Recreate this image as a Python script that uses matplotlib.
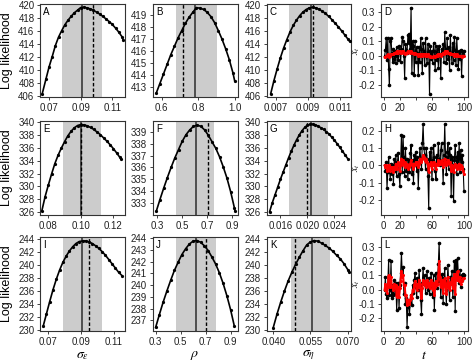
import matplotlib
matplotlib.use('Agg')
import matplotlib.pyplot as plt
import numpy as np

plt.rcParams['font.family'] = ['Liberation Sans', 'DejaVu Sans']
plt.rcParams['mathtext.fontset'] = 'stix'

# ---- profile log likelihoods (row 1) ----
a_x = [0.0657, 0.068, 0.070, 0.072, 0.074, 0.076, 0.078, 0.080, 0.082, 0.084, 0.086, 0.088, 0.090, 0.092,
       0.094, 0.096, 0.098, 0.100, 0.102, 0.104, 0.106, 0.108, 0.110, 0.112, 0.114, 0.116, 0.117]
a_y = [406.3, 408.5, 410.4, 412.0, 413.7, 415.0, 416.0, 416.9, 417.6, 418.2, 418.75, 419.15, 419.55, 419.6,
       419.5, 419.35, 419.15, 418.85, 418.55, 418.2, 417.8, 417.4, 416.95, 416.4, 415.8, 415.1, 414.5]
b_x = [0.57, 0.59, 0.61, 0.63, 0.65, 0.67, 0.69, 0.71, 0.73, 0.75, 0.77, 0.79, 0.81, 0.83, 0.85, 0.87,
       0.89, 0.91, 0.93, 0.95, 0.97, 0.99, 1.00]
b_y = [412.5, 413.3, 414.1, 414.9, 415.7, 416.4, 417.1, 417.7, 418.3, 418.8, 419.2, 419.6, 419.55, 419.45,
       419.2, 418.85, 418.35, 417.7, 417.0, 416.2, 415.3, 414.2, 413.5]
c_x = [0.0067, 0.0069, 0.0071, 0.0073, 0.0075, 0.0077, 0.0079, 0.0081, 0.0083, 0.0085, 0.0087, 0.0089,
       0.0091, 0.0093, 0.0095, 0.0097, 0.0099, 0.0101, 0.0103, 0.0105, 0.0107, 0.0109, 0.0111, 0.0113,
       0.0115, 0.0116]
c_y = [406.3, 408.3, 410.1, 411.8, 413.3, 414.6, 415.8, 416.8, 417.6, 418.3, 418.85, 419.25, 419.5, 419.6,
       419.5, 419.3, 419.0, 418.65, 418.2, 417.7, 417.15, 416.6, 416.0, 415.35, 414.7, 414.35]

# ---- row 2 ----
e_x = [0.076, 0.078, 0.080, 0.082, 0.084, 0.086, 0.088, 0.090, 0.092, 0.094, 0.096, 0.098, 0.100, 0.102,
       0.104, 0.106, 0.108, 0.110, 0.112, 0.114, 0.116, 0.118, 0.120, 0.122, 0.124, 0.125]
e_y = [326.2, 328.4, 330.2, 331.9, 333.5, 334.8, 335.9, 336.9, 337.8, 338.5, 339.05, 339.4, 339.55, 339.5,
       339.35, 339.1, 338.8, 338.4, 338.0, 337.5, 337.0, 336.45, 335.85, 335.2, 334.5, 334.2]
f_x = [0.29, 0.32, 0.35, 0.38, 0.41, 0.44, 0.47, 0.50, 0.53, 0.56, 0.59, 0.62, 0.65, 0.68, 0.71, 0.74,
       0.77, 0.80, 0.83, 0.86, 0.89, 0.92, 0.925]
f_y = [332.3, 333.3, 334.25, 335.15, 336.0, 336.8, 337.5, 338.2, 338.75, 339.15, 339.45, 339.55, 339.45,
       339.15, 338.7, 338.15, 337.6, 336.9, 336.05, 335.1, 333.95, 332.6, 332.35]
g_x = [0.0144, 0.0148, 0.0152, 0.0156, 0.0160, 0.0164, 0.0168, 0.0172, 0.0176, 0.0180, 0.0184, 0.0188,
       0.0192, 0.0196, 0.0200, 0.0204, 0.0208, 0.0212, 0.0216, 0.0220, 0.0224, 0.0228, 0.0232, 0.0236,
       0.0240, 0.0244, 0.0248, 0.0252, 0.0256, 0.0260]
g_y = [326.1, 327.5, 328.7, 329.9, 331.1, 332.2, 333.3, 334.4, 335.4, 336.35, 337.2, 337.95, 338.6, 339.1,
       339.45, 339.6, 339.6, 339.5, 339.3, 339.05, 338.8, 338.45, 338.1, 337.6, 337.15, 336.6, 336.05,
       335.45, 334.85, 334.25]

# ---- row 3 ----
i_x = [0.067, 0.069, 0.071, 0.073, 0.075, 0.077, 0.079, 0.081, 0.083, 0.085, 0.087, 0.089, 0.091, 0.093,
       0.095, 0.097, 0.099, 0.101, 0.103, 0.105, 0.107, 0.109, 0.111, 0.113, 0.115]
i_y = [230.6, 232.5, 234.4, 236.2, 237.8, 239.2, 240.4, 241.35, 242.15, 242.8, 243.3, 243.6, 243.7, 243.7,
       243.55, 243.3, 242.95, 242.55, 242.05, 241.5, 240.85, 240.2, 239.55, 238.9, 238.4]
j_x = [0.30, 0.33, 0.36, 0.39, 0.42, 0.45, 0.48, 0.51, 0.54, 0.57, 0.60, 0.63, 0.66, 0.69, 0.72, 0.75,
       0.78, 0.81, 0.84, 0.87, 0.90, 0.93]
j_y = [236.4, 237.5, 238.55, 239.5, 240.4, 241.25, 241.95, 242.6, 243.1, 243.5, 243.75, 243.8, 243.65,
       243.35, 242.95, 242.4, 241.8, 241.05, 240.15, 239.1, 237.9, 236.5]
k_x = [0.0400, 0.0415, 0.0430, 0.0445, 0.0460, 0.0475, 0.0490, 0.0505, 0.0520, 0.0535, 0.0550, 0.0565,
       0.0580, 0.0595, 0.0610, 0.0625, 0.0640, 0.0655, 0.0670, 0.0685, 0.0700, 0.0704]
k_y = [230.4, 232.45, 234.3, 236.0, 237.55, 238.9, 240.1, 241.2, 242.2, 243.1, 243.55, 243.75, 243.65,
       243.35, 243.0, 242.6, 242.1, 241.5, 240.95, 240.2, 239.3, 239.0]

# ---- time series x_t (black: simulated, red: estimated) ----
d_black = [0.00, 0.04, 0.12, -0.03, 0.12, -0.09, -0.20, 0.10, 0.12, 0.02,
           -0.04, 0.05, -0.02, 0.03, -0.05, 0.06, 0.00, -0.03, 0.07, 0.02,
           -0.04, 0.05, 0.13, 0.10, 0.00, -0.15, 0.08, 0.04, 0.02, 0.14,
           0.09, 0.15, 0.05, 0.33, -0.12, 0.10, 0.07, -0.13, 0.10, -0.04,
           0.06, 0.02, -0.13, 0.06, -0.04, 0.12, 0.05, -0.12, 0.09, 0.03,
           -0.06, 0.12, 0.00, -0.05, 0.08, 0.03, -0.26, 0.07, -0.02, 0.03,
           -0.05, 0.09, 0.03, -0.10, 0.07, -0.03, 0.05, -0.08, 0.07, 0.00,
           -0.15, 0.05, 0.02, 0.08, -0.04, 0.16, 0.05, -0.05, 0.12, -0.02,
           0.06, -0.10, 0.14, 0.02, -0.05, 0.09, -0.03, 0.13, 0.04, -0.06,
           0.12, 0.01, -0.09, 0.03, -0.02, 0.04, -0.14, 0.03, 0.01, 0.03]
d_red = [-0.01, -0.01, 0.00, 0.00, 0.01, 0.00, -0.01, 0.00, 0.01, 0.01,
         0.01, 0.01, 0.02, 0.02, 0.02, 0.03, 0.02, 0.02, 0.03, 0.03,
         0.02, 0.02, 0.03, 0.03, 0.02, 0.01, 0.02, 0.02, 0.02, 0.03,
         0.03, 0.03, 0.02, 0.03, 0.02, 0.02, 0.02, 0.01, 0.02, 0.01,
         0.01, 0.01, 0.00, 0.01, 0.00, 0.01, 0.01, 0.00, 0.01, 0.01,
         0.00, 0.01, 0.00, 0.00, 0.01, 0.00, -0.01, 0.00, -0.01, -0.01,
         -0.01, 0.00, 0.00, -0.01, 0.00, 0.00, 0.01, 0.00, 0.01, 0.01,
         0.00, 0.01, 0.01, 0.02, 0.01, 0.03, 0.03, 0.02, 0.03, 0.02,
         0.02, 0.01, 0.02, 0.01, 0.01, 0.01, 0.00, 0.01, 0.01, 0.00,
         0.01, 0.00, 0.00, 0.00, 0.00, 0.00, -0.01, 0.00, 0.00, 0.00]
h_black = [0.00, -0.03, 0.02, -0.13, -0.04, 0.05, -0.02, -0.08, 0.01, -0.05,
           0.00, -0.11, 0.04, -0.03, 0.06, -0.06, 0.02, 0.07, -0.05, -0.12,
           0.02, 0.18, -0.04, 0.17, 0.05, -0.06, 0.10, -0.03, 0.04, -0.08,
           0.03, -0.04, 0.07, 0.12, -0.05, 0.03, -0.10, 0.06, 0.00, 0.08,
           -0.03, 0.05, -0.13, 0.02, 0.10, 0.04, -0.02, 0.13, 0.24, 0.10,
           0.06, -0.02, 0.10, 0.04, -0.06, -0.25, 0.08, 0.02, 0.10, -0.08,
           0.03, 0.12, 0.05, -0.03, -0.08, 0.06, 0.01, 0.13, 0.04, 0.00,
           0.09, 0.13, 0.02, -0.10, 0.06, 0.24, 0.05, -0.05, 0.08, 0.13,
           -0.02, 0.10, 0.06, -0.18, 0.05, 0.00, -0.21, 0.03, 0.12, 0.05,
           -0.05, 0.08, 0.01, 0.13, -0.04, 0.09, 0.02, 0.06, -0.02, -0.15]
h_red = [0.00, -0.01, 0.00, -0.03, -0.02, 0.00, 0.00, -0.03, -0.01, -0.02,
         -0.01, -0.04, -0.01, -0.02, 0.01, -0.02, 0.00, 0.02, 0.00, -0.03,
         0.00, 0.04, 0.01, 0.03, 0.02, -0.01, 0.02, 0.00, 0.01, -0.02,
         0.00, -0.01, 0.01, 0.03, 0.00, 0.01, -0.02, 0.01, 0.00, 0.02,
         0.01, 0.02, -0.01, 0.01, 0.04, 0.03, 0.02, 0.04, 0.06, 0.05,
         0.04, 0.02, 0.04, 0.02, 0.00, -0.04, 0.01, 0.00, 0.02, -0.02,
         0.00, 0.02, 0.01, 0.00, -0.02, 0.01, 0.00, 0.03, 0.02, 0.01,
         0.02, 0.03, 0.01, -0.01, 0.01, 0.04, 0.02, 0.00, 0.02, 0.03,
         0.01, 0.02, 0.01, -0.03, 0.00, -0.01, -0.04, -0.01, 0.01, 0.00,
         -0.02, 0.00, -0.01, 0.01, -0.02, 0.00, -0.01, -0.01, -0.03, -0.05]
l_black = [0.00, 0.09, -0.03, -0.06, 0.04, 0.21, -0.04, 0.00, 0.20, -0.06,
           0.03, -0.04, 0.07, -0.03, 0.05, -0.14, -0.03, 0.05, -0.13, 0.03,
           0.12, 0.26, 0.10, 0.16, -0.03, 0.05, -0.10, -0.06, -0.26, -0.12,
           -0.08, -0.17, -0.09, -0.04, -0.11, 0.03, -0.02, 0.07, 0.12, 0.02,
           -0.05, 0.08, 0.00, 0.14, 0.03, -0.07, -0.17, 0.05, 0.15, 0.04,
           0.10, -0.02, 0.06, 0.13, 0.00, 0.08, -0.03, 0.05, 0.12, 0.02,
           -0.05, 0.10, -0.14, 0.04, 0.12, 0.01, 0.06, 0.18, 0.33, 0.10,
           -0.05, 0.04, 0.11, -0.09, 0.08, 0.15, 0.00, -0.10, 0.06, 0.17,
           0.03, -0.07, 0.09, 0.05, 0.13, -0.05, 0.03, 0.20, -0.15, 0.21,
           0.08, 0.22, 0.10, 0.05, 0.14, 0.02, 0.10, 0.07, 0.11, 0.10]
l_red = [0.00, 0.04, 0.01, -0.02, 0.02, 0.10, 0.03, 0.02, 0.09, 0.02,
         0.02, 0.00, 0.04, 0.01, 0.03, -0.05, -0.02, 0.02, -0.05, 0.01,
         0.06, 0.13, 0.09, 0.10, 0.03, 0.03, -0.04, -0.04, -0.11, -0.09,
         -0.07, -0.10, -0.07, -0.04, -0.06, 0.00, -0.01, 0.03, 0.06, 0.03,
         0.00, 0.04, 0.02, 0.07, 0.04, -0.01, -0.06, 0.01, 0.07, 0.04,
         0.06, 0.02, 0.04, 0.07, 0.03, 0.05, 0.01, 0.03, 0.07, 0.03,
         0.00, 0.05, -0.04, 0.02, 0.06, 0.03, 0.04, 0.10, 0.20, 0.09,
         0.02, 0.03, 0.07, -0.02, 0.04, 0.08, 0.03, -0.03, 0.03, 0.09,
         0.04, 0.00, 0.05, 0.04, 0.08, 0.01, 0.02, 0.11, -0.03, 0.11,
         0.07, 0.13, 0.09, 0.06, 0.09, 0.04, 0.07, 0.06, 0.08, 0.08]
t = np.arange(1, 101)

# profile panels: (letter, x, y, xlim, ylim, xticks, ticklabels, yticks, ci, mle, true)
profiles = [
    ('A', a_x, a_y, (0.0643, 0.1180), (405.8, 420.1), [0.07, 0.09, 0.11], ['0.07', '0.09', '0.11'],
     range(406, 421, 2), (0.0784, 0.1032), 0.0907, 0.0975),
    ('B', b_x, b_y, (0.55, 1.015), (412.2, 419.9), [0.6, 0.8, 1.0], ['0.6', '0.8', '1.0'],
     range(413, 420), (0.68, 0.905), 0.785, 0.715),
    ('C', c_x, c_y, (0.00644, 0.01169), (405.8, 420.1), [0.007, 0.009, 0.011], ['0.007', '0.009', '0.011'],
     range(406, 421, 2), (0.00781, 0.01025), 0.0092, 0.0093),
    ('E', e_x, e_y, (0.0749, 0.1272), (325.6, 340.1), [0.08, 0.10, 0.12], ['0.08', '0.10', '0.12'],
     range(326, 341, 2), (0.0888, 0.1123), 0.100, 0.100),
    ('F', f_x, f_y, (0.26, 0.945), (332.0, 339.9), [0.3, 0.5, 0.7, 0.9], ['0.3', '0.5', '0.7', '0.9'],
     range(333, 340), (0.45, 0.755), 0.61, 0.71),
    ('G', g_x, g_y, (0.01394, 0.02646), (325.6, 340.1), [0.016, 0.020, 0.024], ['0.016', '0.020', '0.024'],
     range(326, 341, 2), (0.0173, 0.0230), 0.0205, 0.0199),
    ('I', i_x, i_y, (0.0651, 0.1169), (229.9, 244.3), [0.07, 0.09, 0.11], ['0.07', '0.09', '0.11'],
     range(230, 245, 2), (0.0789, 0.1027), 0.0905, 0.0951),
    ('J', j_x, j_y, (0.275, 0.955), (236.1, 244.1), [0.3, 0.5, 0.7, 0.9], ['0.3', '0.5', '0.7', '0.9'],
     range(237, 245), (0.465, 0.78), 0.625, 0.70),
    ('K', k_x, k_y, (0.0373, 0.0713), (229.9, 244.3), [0.040, 0.055, 0.070], ['0.040', '0.055', '0.070'],
     range(230, 245, 2), (0.0473, 0.0630), 0.0555, 0.0489),
]
series = [
    ('D', d_black, d_red, (-0.282, 0.355), [-0.2, -0.1, 0.0, 0.1, 0.2, 0.3]),
    ('H', h_black, h_red, (-0.29, 0.26), [-0.2, -0.1, 0.0, 0.1, 0.2]),
    ('L', l_black, l_red, (-0.29, 0.37), [-0.2, -0.1, 0.0, 0.1, 0.2, 0.3]),
]

W, H = 474, 364
fig = plt.figure(figsize=(W / 100, H / 100), dpi=100)

col_left = [40, 152.5, 266.5, 381]
col_width = [85, 85, 84.5, 87]
row_top = [4, 121, 237]
row_height = [93, 94, 94]


def make_axes(r, c):
    l, w = col_left[c], col_width[c]
    tp, h = row_top[r], row_height[r]
    ax = fig.add_axes([l / W, 1 - (tp + h) / H, w / W, h / H])
    for s in ax.spines.values():
        s.set_linewidth(0.8)
        s.set_color('#333333')
    ax.tick_params(direction='out', length=2.5, width=0.6, labelsize=7, pad=1.5, colors='#222222')
    return ax


for n, (lab, x, y, xlim, ylim, xt, xtl, yt, ci, mle, true) in enumerate(profiles):
    r, c = n // 3, n % 3
    ax = make_axes(r, c)
    ax.axvspan(ci[0], ci[1], color='#cccccc', lw=0, zorder=0)
    ax.axvline(mle, color='#444444', lw=1.3, zorder=1)
    ax.axvline(true, color='black', lw=1.0, ls=(0, (2.5, 1.5)), zorder=2)
    ax.plot(x, y, color='black', lw=1.2, marker='o', ms=1.3, zorder=3)
    ax.set_xlim(xlim)
    ax.set_ylim(ylim)
    ax.set_xticks(xt)
    ax.set_xticklabels(xtl)
    ax.set_yticks(list(yt))
    ax.set_yticklabels([str(v) for v in yt])
    ax.text(0.04, 0.97, lab, transform=ax.transAxes, ha='left', va='top', fontsize=7)
    if c == 0:
        ax.set_ylabel('Log likelihood', fontsize=9, labelpad=4)

for r, (lab, blk, red, ylim, yt) in enumerate(series):
    ax = make_axes(r, 3)
    ax.plot(t, blk, color='black', lw=0.8, marker='o', ms=1.6, zorder=2)
    ax.plot(t, red, color='red', lw=1.5, marker='o', ms=1.2, zorder=3)
    ax.set_xlim(-3.5, 105)
    ax.set_ylim(ylim)
    ax.set_xticks([0, 20, 40, 60, 80, 100])
    ax.set_xticklabels(['0', '20', '', '60', '', '100'])
    ax.set_yticks(yt)
    ax.set_yticklabels(['%.1f' % v for v in yt])
    ax.set_ylabel(r'$x_t$', fontsize=7)
    ax.yaxis.set_label_coords(-0.215, 0.5)
    ax.text(0.04, 0.97, lab, transform=ax.transAxes, ha='left', va='top', fontsize=7)

xlabels = [r'$\sigma_{\varepsilon}$', r'$\rho$', r'$\sigma_{\eta}$', r'$t$']
for c, txt in enumerate(xlabels):
    xc = (col_left[c] + col_width[c] / 2) / W
    fig.text(xc, 1 - 355 / H, txt, ha='center', va='center', fontsize=10)

fig.savefig('out.png', dpi=100)
